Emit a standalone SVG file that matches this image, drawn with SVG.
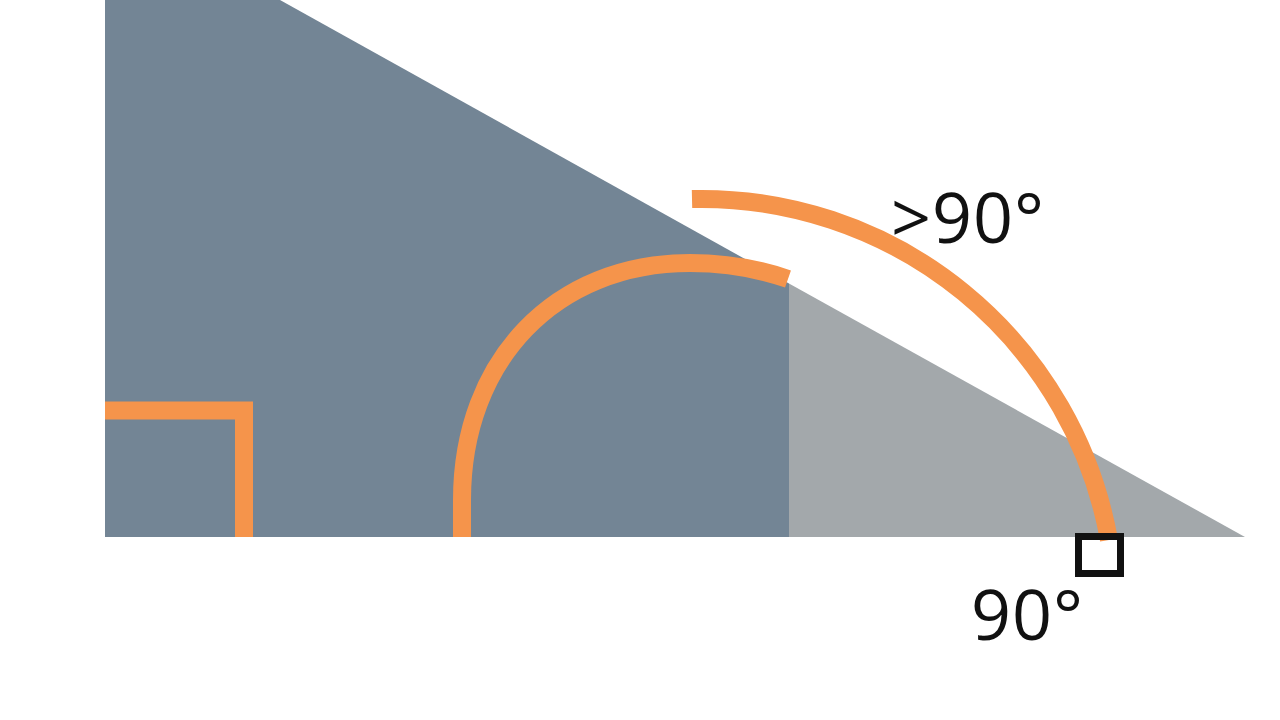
<svg xmlns="http://www.w3.org/2000/svg" width="1280" height="720" viewBox="0 0 1280 720">
<style>
.arc{fill:none;stroke:#f5944b;stroke-width:18;}
.lbl{font-family:"Open Sans","Liberation Sans",sans-serif;font-size:70px;fill:#111;letter-spacing:1px;}
</style>
<rect width="1280" height="720" fill="#fff"/>
<g id="dark-region"><polygon points="105,0 280,0 789,283.5 789,537 105,537" fill="#738595"/></g>
<g id="light-region"><polygon points="789,283.5 1245,537 789,537" fill="#a3a8ab"/></g>
<g id="right-angle-left"><polyline class="arc" points="105,410.5 244,410.5 244,537" stroke-linejoin="miter"/></g>
<g id="inner-arc"><path class="arc" d="M462,537 L462,500 C462,360 555.5,263 690,263 C730,263 762,270 788,279"/></g>
<g id="outer-arc"><path class="arc" d="M692,199 A414,414 0 0 1 1109,540"/></g>
<g id="right-angle-mark"><rect x="1078.5" y="536.5" width="42" height="37" fill="none" stroke="#111" stroke-width="7"/></g>
<g id="labels">
<text class="lbl" x="891" y="243">&gt;90°</text>
<text class="lbl" x="971" y="640">90°</text>
</g>
</svg>
